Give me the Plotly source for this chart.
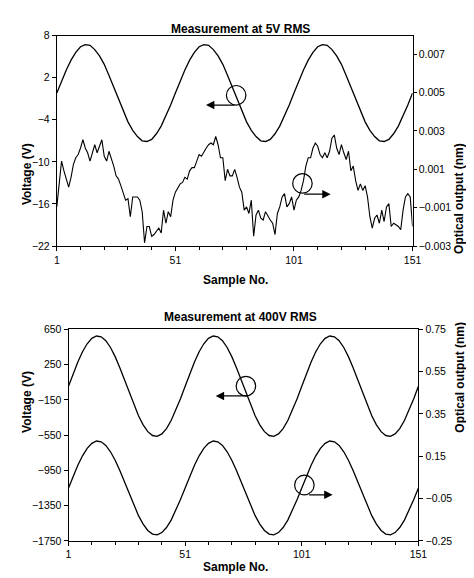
import plotly.graph_objects as go

W, H = 474, 578

samples = list(range(1, 152, 2))
samples_all = list(range(1, 152))

top_voltage = [
    -0.2, 1.5, 3.1, 4.5, 5.6, 6.4, 6.7, 6.6, 6.0, 5.1, 3.9, 2.3, 0.7, -1.1, -2.7, -4.3, -5.5, -6.4, -7.0, -7.1, -6.8, -6.0, -4.9, -3.5, -1.9,
    -0.2, 1.5, 3.1, 4.5, 5.6, 6.4, 6.7, 6.6, 6.0, 5.1, 3.9, 2.3, 0.7, -1.1, -2.7, -4.3, -5.5, -6.4, -7.0, -7.1, -6.8, -6.0, -4.9, -3.5, -1.9,
    -0.2, 1.5, 3.1, 4.5, 5.6, 6.4, 6.7, 6.6, 6.0, 5.1, 3.9, 2.3, 0.7, -1.1, -2.7, -4.3, -5.5, -6.4, -7.0, -7.1, -6.8, -6.0, -4.9, -3.5, -1.9,
    -0.2,
]

top_optical = [
    -9.6e-4, 2.4e-4, 14.3e-4, 9.2e-4, 4.9e-4, 0.7e-4, 5.8e-4, 12.6e-4, 16.0e-4, 17.7e-4,
    21.1e-4, 25.4e-4, 21.1e-4, 18.6e-4, 14.3e-4, 18.6e-4, 22.8e-4, 18.6e-4, 22.0e-4, 25.4e-4,
    16.8e-4, 14.3e-4, 19.4e-4, 16.0e-4, 11.7e-4, 6.6e-4, 4.9e-4, 1.5e-4, -1.9e-4, -6.1e-4,
    -5.3e-4, -14.7e-4, -4.4e-4, -4.4e-4, -4.4e-4, -6.1e-4, -12.1e-4, -28.3e-4, -19.8e-4, -19.8e-4,
    -24.9e-4, -24.0e-4, -22.3e-4, -20.6e-4, -23.2e-4, -11.3e-4, -18.1e-4, -12.1e-4, -14.7e-4, -6.1e-4,
    -1.9e-4, 0.7e-4, 2.4e-4, 3.2e-4, 5.8e-4, 4.9e-4, 9.2e-4, 10.9e-4, 10.9e-4, 14.3e-4,
    17.7e-4, 16.8e-4, 19.4e-4, 21.1e-4, 22.8e-4, 23.7e-4, 22.8e-4, 27.1e-4, 22.8e-4, 16.0e-4,
    16.0e-4, 4.1e-4, 10.0e-4, 6.6e-4, 6.6e-4, 10.0e-4, 5.8e-4, 0.7e-4, -1.9e-4, -11.3e-4,
    -9.6e-4, -13.0e-4, -6.1e-4, -24.9e-4, -13.8e-4, -11.3e-4, -15.5e-4, -16.4e-4, -12.1e-4, -14.7e-4,
    -16.4e-4, -18.1e-4, -24.0e-4, -13.0e-4, -9.6e-4, -4.4e-4, -2.7e-4, -9.6e-4, -7.9e-4, -4.4e-4,
    -11.3e-4, -6.1e-4, -4.4e-4, -1.0e-4, 4.1e-4, 11.7e-4, 16.0e-4, 16.0e-4, 21.1e-4, 23.7e-4,
    22.0e-4, 17.7e-4, 16.0e-4, 18.6e-4, 16.0e-4, 19.4e-4, 26.2e-4, 27.9e-4, 21.1e-4, 17.7e-4,
    22.8e-4, 18.6e-4, 15.1e-4, 19.4e-4, 9.2e-4, 11.7e-4, 4.1e-4, -1.0e-4, 2.4e-4, -1.0e-4,
    1.5e-4, -4.4e-4, -14.7e-4, -20.6e-4, -15.5e-4, -13.8e-4, -18.1e-4, -11.3e-4, -17.2e-4, -9.6e-4,
    -7.9e-4, -19.8e-4, -18.1e-4, -18.9e-4, -19.8e-4, -21.5e-4, -11.3e-4, -4.4e-4, -2.7e-4, -4.4e-4,
    -19.8e-4,
]

bottom_voltage = [
    5, 147, 280, 395, 486, 547, 574, 565, 521, 444, 340, 215, 76, -66, -205, -330, -434, -511, -555, -564, -537, -476, -385, -270, -137,
    5, 147, 280, 395, 486, 547, 574, 565, 521, 444, 340, 215, 76, -66, -205, -330, -434, -511, -555, -564, -537, -476, -385, -270, -137,
    5, 147, 280, 395, 486, 547, 574, 565, 521, 444, 340, 215, 76, -66, -205, -330, -434, -511, -555, -564, -537, -476, -385, -270, -137,
    5,
]

bottom_optical = [
    0, .055, .107, .152, .187, .211, .222, .218, .201, .171, .131, .082, .028, -.028, -.082, -.131, -.171, -.201, -.218, -.222, -.211, -.187, -.152, -.107, -.055,
    0, .055, .107, .152, .187, .211, .222, .218, .201, .171, .131, .082, .028, -.028, -.082, -.131, -.171, -.201, -.218, -.222, -.211, -.187, -.152, -.107, -.055,
    0, .055, .107, .152, .187, .211, .222, .218, .201, .171, .131, .082, .028, -.028, -.082, -.131, -.171, -.201, -.218, -.222, -.211, -.187, -.152, -.107, -.055,
    0,
]

x_ticks = [1, 51, 101, 151]
top_left_ticks = [8, 2, -4, -10, -16, -22]
top_right_ticks = [0.007, 0.005, 0.003, 0.001, -0.001, -0.003]
bot_left_ticks = [650, 250, -150, -550, -950, -1350, -1750]
bot_right_ticks = [0.75, 0.55, 0.35, 0.15, -0.05, -0.25]

FONT = "Liberation Sans, Arial, sans-serif"
LINE = dict(color="black", width=1.3)


def px(x, y):
    return x / W, 1 - y / H


fig = go.Figure()
fig.add_trace(go.Scatter(x=samples, y=top_voltage, mode="lines", line=LINE, xaxis="x", yaxis="y"))
fig.add_trace(go.Scatter(x=samples_all, y=top_optical, mode="lines", line=dict(color="black", width=1.1),
                         xaxis="x", yaxis="y2"))
fig.add_trace(go.Scatter(x=samples, y=bottom_voltage, mode="lines", line=LINE, xaxis="x2", yaxis="y3"))
fig.add_trace(go.Scatter(x=samples, y=bottom_optical, mode="lines", line=LINE, xaxis="x2", yaxis="y4"))

axis_common = dict(showline=True, linecolor="black", linewidth=1, ticks="outside", ticklen=4,
                   tickcolor="black", showgrid=False, zeroline=False,
                   tickfont=dict(family=FONT, size=10.5, color="black"))
xcommon = dict(axis_common, range=[1, 151], tickvals=x_ticks, mirror=True,
               minor=dict(ticks="outside", ticklen=3, dtick=10, tick0=1, tickcolor="black"))

fig.update_layout(
    width=W, height=H, showlegend=False, plot_bgcolor="white", paper_bgcolor="white",
    margin=dict(l=0, r=0, t=0, b=0),
    xaxis=dict(xcommon, domain=[47 / W, 412 / W], anchor="y"),
    yaxis=dict(axis_common, domain=[1 - 237 / H, 1 - 22 / H], range=[-22, 8], tickvals=top_left_ticks,
               anchor="x"),
    yaxis2=dict(axis_common, overlaying="y", side="right", anchor="x", range=[-0.003, 0.00797],
                tickvals=top_right_ticks, tickformat=".3f", ticklen=3),
    xaxis2=dict(xcommon, domain=[59 / W, 418 / W], anchor="y3"),
    yaxis3=dict(axis_common, domain=[1 - 538 / H, 1 - 322 / H], range=[-1750, 650],
                tickvals=bot_left_ticks, anchor="x2"),
    yaxis4=dict(axis_common, overlaying="y3", side="right", anchor="x2", range=[-0.25, 0.75],
                tickvals=bot_right_ticks, tickformat=".2f"),
)

texts = [
    ("Measurement at 5V RMS", 235, 6, 0),
    ("Sample No.", 230, 272, 0),
    ("Voltage (V)", 7, 130, -90),
    ("Optical output (nm)", 469, 130, -90),
    ("Measurement at 400V RMS", 235, 309, 0),
    ("Sample No.", 230, 574, 0),
    ("Voltage (V)", 7, 430, -90),
    ("Optical output (nm)", 469, 430, -90),
]
for t, x, y, ang in texts:
    ax, ay = px(x, y)
    fig.add_annotation(text=f"<b>{t}</b>", x=ax, y=ay, xref="paper", yref="paper", showarrow=False,
                       textangle=ang, font=dict(family=FONT, size=12, color="black"))

for cx, cy in [(231, 83), (299, 173), (241, 380), (301, 481)]:
    x0, y1 = px(cx - 10, cy - 10)
    x1, y0 = px(cx + 10, cy + 10)
    fig.add_shape(type="circle", xref="paper", yref="paper", x0=x0, x1=x1, y0=y0, y1=y1,
                  line=dict(color="black", width=1.2))

for (x0, y0, x1) in [(230, 93, 200), (300, 184, 328), (243, 390, 210), (305, 491, 330)]:
    hx, hy = px(x1, y0)
    fig.add_annotation(x=hx, y=hy, xref="paper", yref="paper", ax=x0 - x1, ay=0, text="",
                       showarrow=True, arrowhead=2, arrowsize=1.3, arrowwidth=1.3, arrowcolor="black")

fig.write_html("out.html")
